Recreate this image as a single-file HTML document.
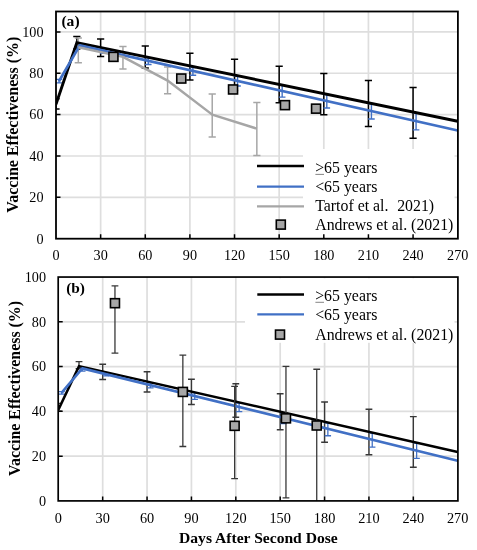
<!DOCTYPE html>
<html lang="en"><head><meta charset="utf-8"><title>Vaccine Effectiveness</title>
<style>html,body{margin:0;padding:0;background:#fff}body{width:477px;height:550px;overflow:hidden}svg text{font-family:"Liberation Serif","Times New Roman",serif}</style>
</head><body>
<svg width="477" height="550" viewBox="0 0 477 550" style="display:block">
<rect width="477" height="550" fill="#fff"/>
<g font-family='Liberation Serif, Times New Roman, serif' fill="#000">
<defs><clipPath id="ca"><rect x="56" y="11.5" width="401.9" height="227.2"/></clipPath><clipPath id="cb"><rect x="58.2" y="277.05" width="399.7" height="223.85"/></clipPath></defs>
<path d="M100.63 11.5 V238.7 M145.27 11.5 V238.7 M189.9 11.5 V238.7 M234.53 11.5 V238.7 M279.17 11.5 V238.7 M323.8 11.5 V238.7 M368.43 11.5 V238.7 M413.07 11.5 V238.7 M56 197.34 H457.9 M56 155.98 H457.9 M56 114.62 H457.9 M56 73.26 H457.9 M56 31.9 H457.9 " stroke="#DEDEDE" stroke-width="1.7" fill="none"/>
<rect x="303" y="149" width="151.5" height="88" fill="#fff"/>
<g clip-path="url(#ca)">
<path d="M56 98.75 V109.06 M52.4 98.75 H59.6 M52.4 109.06 H59.6" stroke="#000" stroke-width="1.5" fill="none"/>
<path d="M76.83 36.44 V49.03 M73.23 36.44 H80.43 M73.23 49.03 H80.43" stroke="#000" stroke-width="1.5" fill="none"/>
<path d="M100.63 38.92 V56.46 M97.03 38.92 H104.23 M97.03 56.46 H104.23" stroke="#000" stroke-width="1.5" fill="none"/>
<path d="M145.27 45.93 V68.01 M141.67 45.93 H148.87 M141.67 68.01 H148.87" stroke="#000" stroke-width="1.5" fill="none"/>
<path d="M189.9 53.16 V79.97 M186.3 53.16 H193.5 M186.3 79.97 H193.5" stroke="#000" stroke-width="1.5" fill="none"/>
<path d="M234.53 59.34 V90.5 M230.93 59.34 H238.13 M230.93 90.5 H238.13" stroke="#000" stroke-width="1.5" fill="none"/>
<path d="M279.17 66.36 V102.87 M275.57 66.36 H282.77 M275.57 102.87 H282.77" stroke="#000" stroke-width="1.5" fill="none"/>
<path d="M323.8 73.58 V114.63 M320.2 73.58 H327.4 M320.2 114.63 H327.4" stroke="#000" stroke-width="1.5" fill="none"/>
<path d="M368.43 80.39 V126.6 M364.83 80.39 H372.03 M364.83 126.6 H372.03" stroke="#000" stroke-width="1.5" fill="none"/>
<path d="M413.07 87.61 V138.15 M409.47 87.61 H416.67 M409.47 138.15 H416.67" stroke="#000" stroke-width="1.5" fill="none"/>
<path d="M59 79.36 V82.86 M55.7 79.36 H62.3 M55.7 82.86 H62.3" stroke="#4170C5" stroke-width="1.4" fill="none"/>
<path d="M79.83 44.08 V46.97 M76.53 44.08 H83.13 M76.53 46.97 H83.13" stroke="#4170C5" stroke-width="1.4" fill="none"/>
<path d="M103.63 48.62 V53.36 M100.33 48.62 H106.93 M100.33 53.36 H106.93" stroke="#4170C5" stroke-width="1.4" fill="none"/>
<path d="M148.27 57.69 V64.5 M144.97 57.69 H151.57 M144.97 64.5 H151.57" stroke="#4170C5" stroke-width="1.4" fill="none"/>
<path d="M192.9 67.6 V75.23 M189.6 67.6 H196.2 M189.6 75.23 H196.2" stroke="#4170C5" stroke-width="1.4" fill="none"/>
<path d="M237.53 76.26 V85.96 M234.23 76.26 H240.83 M234.23 85.96 H240.83" stroke="#4170C5" stroke-width="1.4" fill="none"/>
<path d="M282.17 85.34 V97.1 M278.87 85.34 H285.47 M278.87 97.1 H285.47" stroke="#4170C5" stroke-width="1.4" fill="none"/>
<path d="M326.8 94.62 V108.03 M323.5 94.62 H330.1 M323.5 108.03 H330.1" stroke="#4170C5" stroke-width="1.4" fill="none"/>
<path d="M371.43 103.91 V118.96 M368.13 103.91 H374.73 M368.13 118.96 H374.73" stroke="#4170C5" stroke-width="1.4" fill="none"/>
<path d="M416.07 112.98 V129.9 M412.77 112.98 H419.37 M412.77 129.9 H419.37" stroke="#4170C5" stroke-width="1.4" fill="none"/>
<path d="M78.32 38.1 V62.64 M74.72 38.1 H81.92 M74.72 62.64 H81.92" stroke="#A6A6A6" stroke-width="1.5" fill="none"/>
<path d="M122.95 46.55 V69.04 M119.35 46.55 H126.55 M119.35 69.04 H126.55" stroke="#A6A6A6" stroke-width="1.5" fill="none"/>
<path d="M167.58 66.98 V93.8 M163.98 66.98 H171.18 M163.98 93.8 H171.18" stroke="#A6A6A6" stroke-width="1.5" fill="none"/>
<path d="M212.22 94 V136.91 M208.62 94 H215.82 M208.62 136.91 H215.82" stroke="#A6A6A6" stroke-width="1.5" fill="none"/>
<path d="M256.85 102.46 V155.48 M253.25 102.46 H260.45 M253.25 155.48 H260.45" stroke="#A6A6A6" stroke-width="1.5" fill="none"/>
<polyline points="56,104.32 76.83,42.63 457.7,121.23" fill="none" stroke="#000" stroke-width="2.9" stroke-linejoin="miter"/>
<polyline points="58.98,81.21 79.8,45.32 457.7,130.52" fill="none" stroke="#4170C5" stroke-width="2.7" stroke-linejoin="round"/>
<polyline points="78.32,47.17 122.95,56.87 167.58,80.59 212.22,114.63 256.85,128.66" fill="none" stroke="#A6A6A6" stroke-width="2.5" stroke-linejoin="round"/>
<rect x="108.93" y="52.37" width="9" height="9" fill="#A6A6A6" stroke="#000" stroke-width="1.6"/>
<rect x="176.77" y="74.03" width="9" height="9" fill="#A6A6A6" stroke="#000" stroke-width="1.6"/>
<rect x="228.55" y="84.96" width="9" height="9" fill="#A6A6A6" stroke="#000" stroke-width="1.6"/>
<rect x="280.47" y="100.64" width="9" height="9" fill="#A6A6A6" stroke="#000" stroke-width="1.6"/>
<rect x="311.56" y="104.15" width="9" height="9" fill="#A6A6A6" stroke="#000" stroke-width="1.6"/>
</g>
<rect x="56" y="11.5" width="401.9" height="227.2" fill="none" stroke="#000" stroke-width="1.8"/>
<path d="M100.63 238.7 v-4.5 M145.27 238.7 v-4.5 M189.9 238.7 v-4.5 M234.53 238.7 v-4.5 M279.17 238.7 v-4.5 M323.8 238.7 v-4.5 M368.43 238.7 v-4.5 M413.07 238.7 v-4.5 M56 197.34 h4.5 M56 155.98 h4.5 M56 114.62 h4.5 M56 73.26 h4.5 M56 31.9 h4.5 " stroke="#000" stroke-width="1.5" fill="none"/>
<text x="43.5" y="243.5" font-size="14.2" text-anchor="end">0</text>
<text x="43.5" y="202.14" font-size="14.2" text-anchor="end">20</text>
<text x="43.5" y="160.78" font-size="14.2" text-anchor="end">40</text>
<text x="43.5" y="119.42" font-size="14.2" text-anchor="end">60</text>
<text x="43.5" y="78.06" font-size="14.2" text-anchor="end">80</text>
<text x="43.5" y="36.7" font-size="14.2" text-anchor="end">100</text>
<text x="56" y="259.9" font-size="14.2" text-anchor="middle">0</text>
<text x="100.63" y="259.9" font-size="14.2" text-anchor="middle">30</text>
<text x="145.27" y="259.9" font-size="14.2" text-anchor="middle">60</text>
<text x="189.9" y="259.9" font-size="14.2" text-anchor="middle">90</text>
<text x="234.53" y="259.9" font-size="14.2" text-anchor="middle">120</text>
<text x="279.17" y="259.9" font-size="14.2" text-anchor="middle">150</text>
<text x="323.8" y="259.9" font-size="14.2" text-anchor="middle">180</text>
<text x="368.43" y="259.9" font-size="14.2" text-anchor="middle">210</text>
<text x="413.07" y="259.9" font-size="14.2" text-anchor="middle">240</text>
<text x="457.7" y="259.9" font-size="14.2" text-anchor="middle">270</text>
<path d="M257 166 H304" stroke="#000" stroke-width="2.6"/>
<path d="M257 186.7 H304" stroke="#4170C5" stroke-width="2.2"/>
<path d="M257 206.3 H304" stroke="#A6A6A6" stroke-width="2.2"/>
<rect x="276.3" y="220.1" width="9" height="9" fill="#A6A6A6" stroke="#000" stroke-width="1.6"/>
<text x="315.2" y="172.9" font-size="15.85">&gt;65 years</text>
<path d="M315.4 174.4 H324" stroke="#666" stroke-width="0.8"/>
<text x="315.2" y="191.5" font-size="15.85">&lt;65 years</text>
<text x="315.2" y="210.9" font-size="15.85" xml:space="preserve">Tartof et al.  <tspan dx="0.8">2021)</tspan></text>
<text x="315.2" y="229.6" font-size="15.85">Andrews et al. (2021)</text>
<text x="61.4" y="26.2" font-size="15.6" font-weight="bold">(a)</text>
<text transform="translate(17.5 124.7) rotate(-90)" font-size="16" font-weight="bold" text-anchor="middle">Vaccine Effectiveness (%)</text>
<path d="M102.68 277.05 V500.9 M147.06 277.05 V500.9 M191.43 277.05 V500.9 M235.81 277.05 V500.9 M280.19 277.05 V500.9 M324.57 277.05 V500.9 M368.94 277.05 V500.9 M413.32 277.05 V500.9 M58.2 456.13 H457.9 M58.2 411.36 H457.9 M58.2 366.59 H457.9 M58.2 321.82 H457.9 " stroke="#DEDEDE" stroke-width="1.7" fill="none"/>
<rect x="245" y="278.3" width="209.5" height="64.5" fill="#fff"/>
<g clip-path="url(#cb)">
<path d="M58.3 403.41 V411.22 M54.9 403.41 H61.7 M54.9 411.22 H61.7" stroke="#383838" stroke-width="1.4" fill="none"/>
<path d="M79.01 361.67 V368.81 M75.61 361.67 H82.41 M75.61 368.81 H82.41" stroke="#383838" stroke-width="1.4" fill="none"/>
<path d="M102.68 364.24 V379.53 M99.28 364.24 H106.08 M99.28 379.53 H106.08" stroke="#383838" stroke-width="1.4" fill="none"/>
<path d="M147.06 371.71 V392.02 M143.66 371.71 H150.46 M143.66 392.02 H150.46" stroke="#383838" stroke-width="1.4" fill="none"/>
<path d="M191.43 379.3 V404.52 M188.03 379.3 H194.83 M188.03 404.52 H194.83" stroke="#383838" stroke-width="1.4" fill="none"/>
<path d="M235.81 383.77 V417.25 M232.41 383.77 H239.21 M232.41 417.25 H239.21" stroke="#383838" stroke-width="1.4" fill="none"/>
<path d="M280.19 393.81 V429.75 M276.79 393.81 H283.59 M276.79 429.75 H283.59" stroke="#383838" stroke-width="1.4" fill="none"/>
<path d="M324.57 402.07 V442.24 M321.17 402.07 H327.97 M321.17 442.24 H327.97" stroke="#383838" stroke-width="1.4" fill="none"/>
<path d="M368.94 409.21 V454.74 M365.54 409.21 H372.34 M365.54 454.74 H372.34" stroke="#383838" stroke-width="1.4" fill="none"/>
<path d="M413.32 416.58 V467.24 M409.92 416.58 H416.72 M409.92 467.24 H416.72" stroke="#383838" stroke-width="1.4" fill="none"/>
<path d="M61.6 391.58 V394.03 M58.4 391.58 H64.8 M58.4 394.03 H64.8" stroke="#4170C5" stroke-width="1.3" fill="none"/>
<path d="M82.31 367.7 V371.04 M79.11 367.7 H85.51 M79.11 371.04 H85.51" stroke="#4170C5" stroke-width="1.3" fill="none"/>
<path d="M105.98 372.61 V375.95 M102.78 372.61 H109.18 M102.78 375.95 H109.18" stroke="#4170C5" stroke-width="1.3" fill="none"/>
<path d="M150.36 382.87 V387.78 M147.16 382.87 H153.56 M147.16 387.78 H153.56" stroke="#4170C5" stroke-width="1.3" fill="none"/>
<path d="M194.73 392.92 V399.39 M191.53 392.92 H197.93 M191.53 399.39 H197.93" stroke="#4170C5" stroke-width="1.3" fill="none"/>
<path d="M239.11 403.18 V411.67 M235.91 403.18 H242.31 M235.91 411.67 H242.31" stroke="#4170C5" stroke-width="1.3" fill="none"/>
<path d="M283.49 413.01 V423.5 M280.29 413.01 H286.69 M280.29 423.5 H286.69" stroke="#4170C5" stroke-width="1.3" fill="none"/>
<path d="M327.87 423.05 V435.77 M324.67 423.05 H331.07 M324.67 435.77 H331.07" stroke="#4170C5" stroke-width="1.3" fill="none"/>
<path d="M372.24 433.09 V447.16 M369.04 433.09 H375.44 M369.04 447.16 H375.44" stroke="#4170C5" stroke-width="1.3" fill="none"/>
<path d="M416.62 443.14 V458.32 M413.42 443.14 H419.82 M413.42 458.32 H419.82" stroke="#4170C5" stroke-width="1.3" fill="none"/>
<polyline points="58.3,409.88 79.01,366.13 457.7,452.07" fill="none" stroke="#000" stroke-width="2.5" stroke-linejoin="miter"/>
<polyline points="61.55,392.81 82.26,368.37 457.7,460.77" fill="none" stroke="#4170C5" stroke-width="2.6" stroke-linejoin="round"/>
<path d="M114.96 285.78 V353.19 M111.56 285.78 H118.36 M111.56 353.19 H118.36" stroke="#383838" stroke-width="1.3" fill="none"/>
<path d="M182.85 355.2 V446.49 M179.45 355.2 H186.25 M179.45 446.49 H186.25" stroke="#383838" stroke-width="1.3" fill="none"/>
<path d="M234.63 386.44 V478.63 M231.23 386.44 H238.03 M231.23 478.63 H238.03" stroke="#383838" stroke-width="1.3" fill="none"/>
<path d="M285.96 366.36 V497.82 M282.56 366.36 H289.36 M282.56 497.82 H289.36" stroke="#383838" stroke-width="1.3" fill="none"/>
<path d="M316.73 369.26 V511.66 M313.33 369.26 H320.13 M313.33 511.66 H320.13" stroke="#383838" stroke-width="1.3" fill="none"/>
<rect x="110.46" y="298.69" width="9" height="9" fill="#A6A6A6" stroke="#000" stroke-width="1.6"/>
<rect x="178.35" y="387.41" width="9" height="9" fill="#A6A6A6" stroke="#000" stroke-width="1.6"/>
<rect x="230.13" y="421.34" width="9" height="9" fill="#A6A6A6" stroke="#000" stroke-width="1.6"/>
<rect x="281.46" y="413.86" width="9" height="9" fill="#A6A6A6" stroke="#000" stroke-width="1.6"/>
<rect x="312.23" y="421" width="9" height="9" fill="#A6A6A6" stroke="#000" stroke-width="1.6"/>
</g>
<rect x="58.2" y="277.05" width="399.7" height="223.85" fill="none" stroke="#000" stroke-width="1.7"/>
<path d="M102.68 500.9 v-4.5 M147.06 500.9 v-4.5 M191.43 500.9 v-4.5 M235.81 500.9 v-4.5 M280.19 500.9 v-4.5 M324.57 500.9 v-4.5 M368.94 500.9 v-4.5 M413.32 500.9 v-4.5 M58.2 456.13 h4.5 M58.2 411.36 h4.5 M58.2 366.59 h4.5 M58.2 321.82 h4.5 " stroke="#000" stroke-width="1.5" fill="none"/>
<text x="46" y="505.7" font-size="14.2" text-anchor="end">0</text>
<text x="46" y="460.93" font-size="14.2" text-anchor="end">20</text>
<text x="46" y="416.16" font-size="14.2" text-anchor="end">40</text>
<text x="46" y="371.39" font-size="14.2" text-anchor="end">60</text>
<text x="46" y="326.62" font-size="14.2" text-anchor="end">80</text>
<text x="46" y="281.85" font-size="14.2" text-anchor="end">100</text>
<text x="58.3" y="523" font-size="14.3" text-anchor="middle">0</text>
<text x="102.68" y="523" font-size="14.3" text-anchor="middle">30</text>
<text x="147.06" y="523" font-size="14.3" text-anchor="middle">60</text>
<text x="191.43" y="523" font-size="14.3" text-anchor="middle">90</text>
<text x="235.81" y="523" font-size="14.3" text-anchor="middle">120</text>
<text x="280.19" y="523" font-size="14.3" text-anchor="middle">150</text>
<text x="324.57" y="523" font-size="14.3" text-anchor="middle">180</text>
<text x="368.94" y="523" font-size="14.3" text-anchor="middle">210</text>
<text x="413.32" y="523" font-size="14.3" text-anchor="middle">240</text>
<text x="457.7" y="523" font-size="14.3" text-anchor="middle">270</text>
<path d="M257.3 294.5 H304" stroke="#000" stroke-width="2.6"/>
<path d="M257.3 314.4 H304" stroke="#4170C5" stroke-width="2.2"/>
<rect x="275.5" y="330.1" width="9" height="9" fill="#A6A6A6" stroke="#000" stroke-width="1.6"/>
<text x="315.2" y="300.8" font-size="15.85">&gt;65 years</text>
<path d="M315.4 302.3 H324" stroke="#666" stroke-width="0.8"/>
<text x="315.2" y="319.6" font-size="15.85">&lt;65 years</text>
<text x="315.2" y="339.8" font-size="15.85">Andrews et al. (2021)</text>
<text x="66.2" y="293" font-size="15.4" font-weight="bold">(b)</text>
<text transform="translate(20 388.5) rotate(-90)" font-size="15.9" font-weight="bold" text-anchor="middle">Vaccine Effectiveness (%)</text>
<text x="258.4" y="543.4" font-size="15.6" font-weight="bold" text-anchor="middle">Days After Second Dose</text>
</g></svg>
</body></html>
